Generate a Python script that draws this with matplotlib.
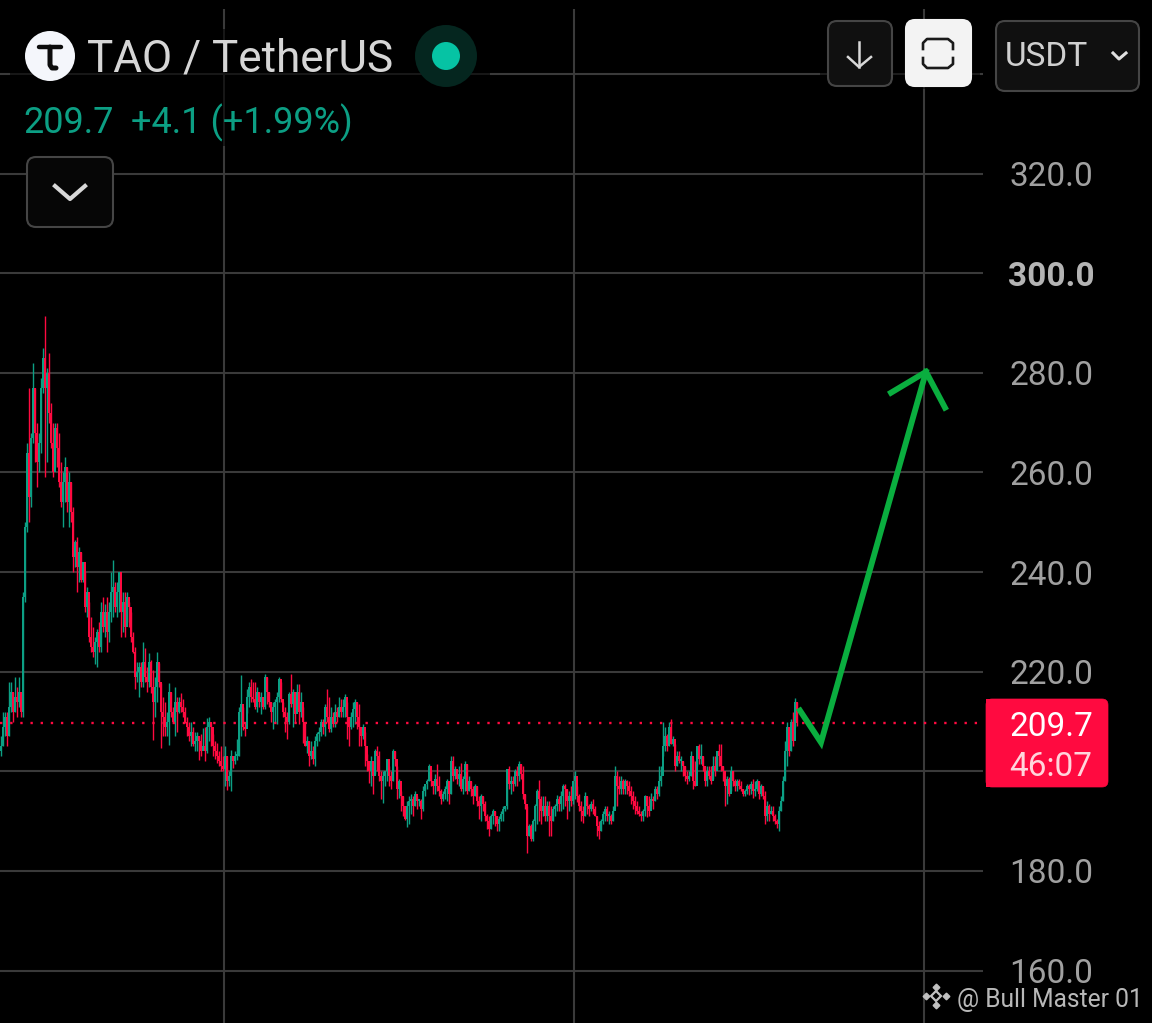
import numpy as np
import matplotlib
matplotlib.use('Agg')
from matplotlib import pyplot as plt
from matplotlib.patches import Circle, FancyBboxPatch, Rectangle

plt.rcParams['font.family'] = ['Roboto', 'DejaVu Sans']

# candles, left to right (1h bars)
closes = [
    205, 209, 211, 207, 213, 216, 212, 215, 214, 216, 212,
    235, 249, 264, 255, 267, 277, 268, 262, 266, 277, 283, 277, 280, 272, 266, 260, 269, 265, 258,
    254, 258, 261, 254, 258, 252, 243, 246, 241, 244,
    238.5, 242, 233, 236, 227, 225, 224, 226, 228, 225, 232, 229, 232, 228, 232, 236, 237, 233, 236, 240,
    232, 234, 229, 235, 233, 227, 224, 219, 220, 221, 218, 222, 219, 218, 222, 217, 214, 217, 222, 218,
    212, 211, 209, 210, 216, 212, 210, 214, 212, 214, 213, 212, 210, 209, 207, 208, 205.5, 206, 207, 206,
    204, 205, 204, 209, 210, 209, 205, 204, 203, 202, 201, 200.5, 203, 198, 199, 203, 202, 203, 203, 212,
    213.5, 209, 208.5, 215, 217, 215, 214.5, 213, 216, 214,
    215, 213, 219, 216, 214, 212, 213, 214, 215, 218.5,
    214.5, 212, 211, 210, 215.5, 213.5, 216, 211.5, 216, 212,
    214, 210, 205, 206, 203, 204, 202.5, 206, 207.5, 208,
    210, 209, 213, 211, 208.5, 211, 209.5, 212, 211, 213,
    212, 213, 215, 211, 209, 211, 212.5, 214, 211, 209,
    207, 209, 205, 202, 200, 202, 199, 204, 203, 199,
    198, 199, 200, 202.5, 199, 198, 204, 202.5, 196.5, 198,
    195, 193, 190.5, 193, 194, 194.5, 193, 195.5, 194, 194,
    192.5, 196, 197.5, 198, 201, 198, 197, 198.5, 197, 196,
    194.5, 195.5, 196.5, 198, 195.5, 202, 199, 200.5, 198.5, 199.5,
    196.5, 198.5, 201.5, 196, 198, 196.5, 195, 197, 194, 193,
    195, 193.5, 191, 190, 188.5, 191, 192, 191, 189.5, 190.5,
    191.5, 192.5, 193, 200.5, 197.5, 198, 197.5, 200, 199, 201.5,
    199.5, 195.5, 193.5, 187, 189, 186.5, 190, 193, 196, 194.5,
    192, 193, 191, 193, 191, 190, 192.5, 193, 194.5, 193.5,
    195, 197, 196.5, 194, 195, 194, 198, 199, 195, 193,
    192, 191, 195, 193, 192.5, 193.5, 192.5, 191, 189, 188,
    190, 191.5, 192.5, 191, 191, 190, 192, 199, 197, 196.5,
    198, 196.5, 198, 197, 196, 195, 194, 193, 192, 191.5,
    191, 192, 195, 193, 192, 194.5, 194, 196.5, 195.5, 198,
    199, 205, 207, 205, 209, 205.5, 206.5, 201, 203, 202,
    202, 201, 199, 198.5, 199, 203, 198, 197, 205, 202.5,
    203, 201, 198, 200, 199, 198, 201, 200, 204, 203,
    201, 200, 197, 198.5, 195.5, 200, 198, 197, 198, 197,
    196.5, 195.5, 196, 197, 196.5, 197.5, 196, 196.5, 198, 195.5,
    197, 195, 191, 193, 191.5, 192, 191, 190, 189.5, 192,
    194, 198, 204, 209, 204, 210, 206, 214, 209.7,
]
highs = [
    207, 212, 212, 212, 218, 218, 216, 219, 217, 219, 214,
    236, 250, 266, 277, 268, 282, 277, 270, 268, 279, 285, 291.4, 281, 284, 274, 270, 270, 270, 268,
    262, 260, 263, 261, 260, 258, 253, 246.5, 247, 245,
    244, 242, 240, 237, 234, 231, 229, 227, 228.5, 230, 234, 235, 233.5, 235, 234, 240, 242.5, 238, 238, 240,
    236, 236, 236, 236, 234, 232, 228, 225, 222, 222, 222, 226, 224.7, 221, 223.8, 222.4, 220.4, 219, 224, 221.8,
    217.7, 215, 214, 212, 217.7, 216, 213, 217, 215, 215, 215.7, 214.5, 213, 211, 210, 210, 209, 208, 208, 207,
    207.5, 208.7, 209, 210.7, 211, 210, 207.4, 206, 205.7, 204, 205, 203, 205, 203, 200, 204.3, 203, 204, 206.4, 213,
    219.4, 213, 210, 216.5, 218, 218.5, 218, 218, 217, 216,
    216, 215, 219.5, 219, 216, 214, 214, 214.5, 216, 219,
    218, 214, 213, 212, 216, 219.5, 216.5, 213, 217.5, 217.5,
    216, 213, 209.5, 207, 206, 206, 205, 207, 208, 209,
    210.5, 210.5, 213.5, 216.5, 215, 213, 212, 213.5, 213, 215,
    214.5, 214.5, 215.5, 214, 211, 212, 214, 214.5, 214, 213.5,
    209, 209.5, 208, 203.5, 202, 203, 200, 204.5, 205, 204,
    200, 200, 200, 202.5, 201, 200, 204.5, 204, 201, 198.5,
    196, 195, 193, 194, 195, 195.5, 195, 196, 195, 194.5,
    194.5, 197, 197.5, 198.5, 201.5, 200, 198, 199.5, 201.5, 199,
    196.5, 196, 197, 198.5, 197.5, 203, 203, 201, 200.5, 201,
    201.7, 199, 202, 201.5, 199, 198, 197, 197.5, 197, 195,
    195.5, 195, 194, 191.5, 191, 191.5, 192.5, 192, 191, 191,
    192, 193, 193, 200.5, 201, 199, 199, 200.5, 201, 202,
    201.5, 201, 195.5, 193, 189.5, 189.5, 190.5, 193.5, 196.5, 198.3,
    195, 195, 195, 194, 194, 193, 193, 193.5, 195.2, 195,
    196, 197.5, 197.5, 196.5, 196, 197, 198, 200, 197, 195.5,
    194, 193, 195.8, 195, 193.5, 194, 194.5, 193, 191, 190,
    190.5, 192, 193, 193, 192, 191.5, 193, 201, 200, 199,
    199, 198.5, 198.5, 198.3, 198, 197, 196, 195, 194, 193,
    192, 192.5, 195.2, 195, 195, 195.6, 195, 197, 197, 201,
    201, 210, 209, 207.5, 210, 210.5, 207, 205.5, 204, 204,
    203, 202, 201, 200, 200, 204, 202.5, 202, 205, 205.5,
    205.5, 203, 201, 201, 201, 201, 203, 203, 204, 205.5,
    205.5, 201, 199, 199, 198.8, 201, 200, 198.5, 198.5, 198.5,
    198, 196.5, 196.5, 197.5, 197.5, 198, 198.5, 198, 198.5, 198,
    197.5, 197, 196, 194, 193.5, 193, 193, 191.5, 190.5, 193,
    195, 199, 206, 210, 206, 210.5, 212, 214.7, 214,
]
lows = [
    203, 205, 207, 205, 207, 212, 210, 212, 211, 213, 211,
    211, 234, 248, 250, 253, 266, 262, 257, 260, 264, 276, 259, 262, 270, 265, 259, 261, 261, 257,
    253, 249, 254, 252, 249, 250, 240, 241, 236, 238,
    238, 238, 232, 231, 226, 224, 223, 221.5, 221, 224, 224, 228, 227, 224, 226, 230, 231, 232, 231, 232,
    227, 228, 227, 230, 229, 226, 223.7, 216.5, 218, 215, 217, 217, 218, 216, 217, 215.7, 206.3, 211, 214, 217,
    204.7, 207, 207, 207, 205.3, 211, 209.7, 207, 208, 211.7, 212, 211, 209.7, 207, 206, 205, 205, 204, 204, 202.3,
    203, 204.3, 202, 203.7, 206, 205, 203, 202.5, 201.7, 201, 200, 200, 197, 196.3, 197, 196, 200.7, 201.5, 202.3, 203,
    207, 208.4, 207, 211.7, 213, 214, 214, 212.5, 212, 213,
    211.5, 212.5, 212.5, 213.5, 213, 210, 208.5, 210, 209.5, 214,
    214, 211, 208, 206.5, 209.5, 213, 209, 210, 213, 209.5,
    211, 205.7, 205, 203.7, 201, 202.5, 201.5, 201, 205, 206,
    207, 207.5, 207, 210, 208, 208, 209, 209, 210, 211,
    211, 211, 211, 206.5, 205, 208.5, 209, 209.5, 208.5, 205,
    205, 206.5, 201, 200, 197.7, 197, 195.5, 199.5, 200, 198,
    194.5, 193.7, 197, 198, 197, 196.5, 198, 201, 194.5, 194.6,
    192, 191, 190.3, 188.9, 189.5, 191.5, 191, 193, 192.5, 193,
    190.5, 192, 195, 196.5, 198, 197, 195.5, 195.5, 196, 195,
    193.5, 194, 194.5, 194, 193.5, 195.5, 198, 198.5, 197.5, 197,
    196, 195.5, 196, 195.5, 196, 195, 193.5, 195, 193, 190.5,
    190, 192, 190, 188.5, 187, 188.5, 189.5, 189, 188, 188,
    190, 190, 192, 192.5, 196.5, 195.5, 196, 197, 197, 198,
    198.5, 194.5, 192.5, 183.6, 187, 186, 186, 188, 189.5, 190,
    189.5, 191, 190, 190, 187, 187, 190, 191, 192, 192,
    192, 192.5, 193, 190.5, 192, 193, 193.5, 194.5, 193.8, 192,
    190, 189.7, 191, 191.5, 191, 192, 191.5, 191, 187, 186.5,
    188, 189.5, 190, 190, 189.5, 189.5, 190, 193, 193, 195.5,
    195.5, 195.5, 195.5, 195.5, 195, 193.5, 192.5, 191.5, 191.5, 191,
    190, 190, 191, 190.8, 191, 193, 192.5, 194, 194.5, 195,
    197, 203, 204, 204, 205, 205.5, 205, 200, 201, 201.7,
    200, 199, 198, 197.5, 198, 199, 196.5, 197, 201, 201.5,
    201.5, 200, 197, 197, 198.5, 197.5, 198.5, 199, 200.5, 201,
    200, 198, 193, 193.5, 195, 196, 197, 196, 196, 196.5,
    196, 195, 195, 195.5, 195.3, 195.5, 194.7, 195, 196, 194.5,
    195, 194.5, 189.5, 190, 190, 191.5, 190, 189.5, 188.6, 188,
    192, 194, 198, 201, 203, 204, 205, 209, 209.2,
]
first_open = 204

price_ticks = [160, 180, 200, 220, 240, 260, 280, 300, 320, 340]
price_labels = ['160.0', '180.0', '220.0', '240.0', '260.0', '280.0', '300.0', '320.0']
time_ticks = [111.5, 286.5, 461.5]   # bar index of the vertical grid lines
last_price = 209.7
# projected move drawn on the chart, bar index / price
arrow_x = [399.5, 410, 462.5]
arrow_y = [212.2, 205.8, 280.2]
head_x = [445, 462.5, 472]
head_y = [276, 280.2, 273]

GREEN = '#0c9f84'
RED = '#ff0a40'
GRID = '#3a3a3a'

fig = plt.figure(figsize=(11.52, 10.23), dpi=100, facecolor='black')
ax = fig.add_axes([0, 0, 1, 1], facecolor='black')
ax.set_xlim(-0.5, 575.5)
ax.set_ylim(149.49, 354.83)
ax.axis('off')

# grid
ax.hlines(price_ticks, -0.5, 491, color=GRID, lw=1.5, zorder=1)
ax.vlines(time_ticks, 149.49, 353, color=GRID, lw=1.5, zorder=1)

# candles
x = np.arange(len(closes))
c = np.array(closes, dtype=float)
h = np.array(highs, dtype=float)
l = np.array(lows, dtype=float)
o = np.concatenate([[first_open], c[:-1]])
up = c >= o
colors = np.where(up, GREEN, RED)
ax.vlines(x, l, h, colors=colors, lw=1.0, zorder=2)
ax.bar(x, np.maximum(np.abs(c - o), 0.4), bottom=np.minimum(o, c), width=1.0, color=colors, zorder=3)

# last price line
ax.hlines(last_price, -0.5, 491, color=RED, lw=1.7, linestyle=(0, (1, 3.3)), zorder=4)

# drawn arrow
ax.plot(arrow_x, arrow_y, color='#0aae3f', lw=4.2, solid_joinstyle='miter', zorder=5)
ax.plot(head_x, head_y, color='#0aae3f', lw=4.2, solid_joinstyle='miter', zorder=5)

# price axis labels
for t in price_labels:
    bold = t == '300.0'
    ax.text(525.3, float(t), t, color='#b4b4b4' if bold else '#a0a0a0', fontsize=24,
            fontweight='bold' if bold else 'normal', ha='center', va='center_baseline', zorder=6)

# app furniture on top, in screen pixels
ui = fig.add_axes([0, 0, 1, 1])
ui.set_xlim(0, 1152)
ui.set_ylim(1023, 0)
ui.axis('off')
ui.patch.set_alpha(0)


def box(x0, y0, x1, y1, face, edge='#454545', lw=1.5, r=9):
    ui.add_patch(FancyBboxPatch((x0 + r, y0 + r), x1 - x0 - 2 * r, y1 - y0 - 2 * r,
                                boxstyle='round,pad=%d,rounding_size=%d' % (r, r),
                                fc=face, ec=edge, lw=lw))


# header dims the grid behind it
ui.add_patch(Rectangle((10, 29), 480, 117, fc='black', ec='none', alpha=0.6))
ui.add_patch(Rectangle((820, 29), 160, 60, fc='black', ec='none', alpha=0.5))

ui.add_patch(Circle((50, 56), 25, fc='#f4f6fb', ec='none'))
ui.plot([39, 61], [47, 47], color='#0c0c0c', lw=3.2, solid_capstyle='round')
ui.plot([50, 50, 52, 56], [47, 65, 68, 68], color='#0c0c0c', lw=3.6, solid_capstyle='round')
ui.text(87, 55, 'TAO / TetherUS', color='#d6d6d6', fontsize=31.7, ha='left', va='center_baseline')
ui.add_patch(Circle((446, 56), 31, fc='#05261f', ec='none'))
ui.add_patch(Circle((446, 56), 14, fc='#06c3a4', ec='none'))
ui.text(23, 119, '209.7', color=GREEN, fontsize=26, ha='left', va='center_baseline')
ui.text(131, 119, '+4.1 (+1.99%)', color=GREEN, fontsize=26, ha='left', va='center_baseline')

box(27, 157, 113, 227, '#060606')
ui.plot([55, 70, 85], [186, 199, 186], color='#d8d8d8', lw=3)

box(828, 21, 892, 86, '#101010')
ui.plot([859, 859], [42, 67], color='#d8d8d8', lw=1.8)
ui.plot([848, 859, 871], [57, 67, 57], color='#d8d8d8', lw=1.8)

box(906, 20, 971, 86, '#f3f3f3', edge='#f3f3f3')
ui.plot([923, 923, 927, 948, 953, 953], [49, 43, 39, 39, 43, 49], color='#1a1a1a', lw=1.9)
ui.plot([923, 923, 927, 948, 953, 953], [58, 64, 68, 68, 64, 58], color='#1a1a1a', lw=1.9)

box(996, 21, 1139, 91, '#101010')
ui.text(1005, 54, 'USDT', color='#d0d0d0', fontsize=24, ha='left', va='center_baseline')
ui.plot([1113, 1119, 1126], [53, 59, 53], color='#e0e0e0', lw=2.2)

# current price tag
box(986, 699, 1108, 787, RED, edge=RED, lw=0.5, r=6)
ui.add_patch(Rectangle((986, 699), 12, 88, fc=RED, ec='none'))
ui.text(1051, 723, '209.7', color='white', fontsize=24, ha='center', va='center_baseline')
ui.text(1051, 763, '46:07', color='#ffd5dc', fontsize=24, ha='center', va='center_baseline')

# watermark
for dx, dy in [(0, -9), (0, 9), (-10, 0), (10, 0)]:
    ui.plot(936 + dx, 996 + dy, marker='D', ms=3.4, mfc='#c0c0c0', mec='#c0c0c0')
ui.plot(936, 996, marker='D', ms=5, mfc='none', mec='#c0c0c0', mew=1.6)
ui.text(957, 997, '@ Bull Master 01', color='#b8b8b8', fontsize=17.7, ha='left', va='center_baseline')

fig.savefig('out.png', dpi=100, facecolor='black')
